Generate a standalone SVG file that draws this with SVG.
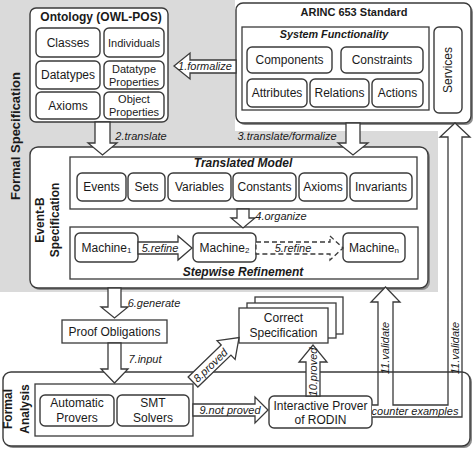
<svg xmlns="http://www.w3.org/2000/svg" width="474" height="450" viewBox="0 0 474 450">
<style>
.box{fill:#fff;stroke:#3a3a3a;stroke-width:1.4}
.sq{fill:#fff;stroke:#3a3a3a;stroke-width:1.3}
.sh{fill:#8c8c8c}
.ar{fill:#fff;stroke:#3a3a3a;stroke-width:1.3;stroke-linejoin:miter}
.dash{stroke-dasharray:5,3}
text{font-family:"Liberation Sans",Arial,Helvetica,sans-serif;fill:#1a1a1a;text-anchor:middle}
.t{font-size:12px}
.s{font-size:11px}
.b{font-weight:bold}
.bi{font-weight:bold;font-style:italic}
.l{font-size:11px;font-style:italic}
</style>
<rect width="474" height="450" fill="#fff"/>
<path d="M0,0 H235 V131 H438 V292 H0 Z" fill="#dadada"/>
<text class="b" font-size="13" transform="translate(20,136) rotate(-90)">Formal Specification</text>

<g id="ontology">
<rect class="box" x="30" y="8" width="138" height="114" rx="6"/>
<text class="t b" x="101" y="21">Ontology (OWL-POS)</text>
<rect class="box" x="36" y="28" width="64" height="29" rx="5"/><text class="t" x="68" y="47">Classes</text>
<rect class="box" x="104" y="28" width="60" height="29" rx="5"/><text class="s" x="134" y="46.5">Individuals</text>
<rect class="box" x="36" y="61" width="64" height="28" rx="5"/><text class="t" x="68" y="79">Datatypes</text>
<rect class="box" x="104" y="61" width="60" height="28" rx="5"/><text class="s" x="134" y="73">Datatype</text><text class="s" x="134" y="86">Properties</text>
<rect class="box" x="36" y="92" width="64" height="27" rx="5"/><text class="t" x="68" y="110">Axioms</text>
<rect class="box" x="104" y="92" width="60" height="27" rx="5"/><text class="s" x="134" y="103">Object</text><text class="s" x="134" y="116">Properties</text>
</g>

<g id="arinc">
<rect class="sh" x="238" y="5" width="235" height="120" rx="7"/>
<rect class="box" x="236" y="3" width="235" height="120" rx="7"/>
<text class="b" font-size="11" x="354" y="16">ARINC 653 Standard</text>
<rect class="sq" x="242" y="27" width="187" height="83"/>
<text class="bi" font-size="10.8" x="334" y="38">System Functionality</text>
<rect class="box" x="247" y="47" width="85" height="26" rx="5"/><text class="t" x="289.5" y="64">Components</text>
<rect class="box" x="341" y="47" width="82" height="26" rx="5"/><text class="t" x="382" y="64">Constraints</text>
<rect class="box" x="247" y="79" width="60" height="28" rx="5"/><text class="t" x="277" y="97">Attributes</text>
<rect class="box" x="310" y="79" width="59" height="28" rx="5"/><text class="t" x="339.5" y="97">Relations</text>
<rect class="box" x="372" y="79" width="51" height="28" rx="5"/><text class="t" x="397.5" y="97">Actions</text>
<rect class="box" x="434" y="27" width="28" height="86" rx="5"/><text class="t" transform="translate(452,70) rotate(-90)">Services</text>
</g>

<g id="eventb">
<rect class="sh" x="32" y="149" width="398" height="141" rx="8"/>
<rect class="box" x="30" y="147" width="398" height="141" rx="8"/>
<text class="t b" transform="translate(44,220) rotate(-90)">Event-B</text>
<text class="t b" transform="translate(59,220) rotate(-90)">Specification</text>
</g>

<g id="translated-model">
<rect class="sq" x="70" y="157" width="347" height="52"/>
<text class="t bi" x="243" y="167">Translated Model</text>
<rect class="box" x="77" y="173" width="49" height="28" rx="5"/><text class="t" x="101.5" y="191">Events</text>
<rect class="box" x="128" y="173" width="37" height="28" rx="5"/><text class="t" x="146.5" y="191">Sets</text>
<rect class="box" x="168" y="173" width="63" height="28" rx="5"/><text class="t" x="199.5" y="191">Variables</text>
<rect class="box" x="233" y="173" width="63" height="28" rx="5"/><text class="t" x="264.5" y="191">Constants</text>
<rect class="box" x="299" y="173" width="48" height="28" rx="5"/><text class="t" x="323" y="191">Axioms</text>
<rect class="box" x="350" y="173" width="62" height="28" rx="5"/><text class="t" x="381" y="191">Invariants</text>
</g>

<g id="stepwise-refinement">
<rect class="sq" x="70" y="227" width="348" height="52"/>
<text class="t bi" x="243" y="276">Stepwise Refinement</text>
</g>
<g id="machine1"><rect class="box" x="75" y="233" width="63" height="29" rx="5"/><text class="t" x="106.5" y="252">Machine<tspan font-size="8" dy="1">1</tspan></text></g>
<g id="machine2"><rect class="box" x="193" y="233" width="63" height="29" rx="5"/><text class="t" x="224.5" y="252">Machine<tspan font-size="8" dy="1">2</tspan></text></g>
<g id="machinen"><rect class="box" x="343" y="233" width="62" height="29" rx="5"/><text class="t" x="374" y="252">Machine<tspan font-size="8" dy="1">n</tspan></text></g>

<g id="proof-obligations"><rect class="sq" x="62" y="320" width="105" height="23"/><text class="t" x="114.5" y="336">Proof Obligations</text></g>

<g id="correct-spec">
<rect class="sq" x="255" y="297" width="88" height="37"/>
<rect class="sq" x="247" y="303" width="89" height="35"/>
<rect class="sq" x="239" y="308" width="89" height="35"/>
<text class="t" x="283.5" y="322">Correct</text>
<text class="t" x="283.5" y="337">Specification</text>
</g>

<g id="formal-analysis">
<rect class="sh" x="5" y="374" width="467" height="74" rx="8"/>
<rect class="box" x="3" y="372" width="467" height="74" rx="8"/>
<text class="t b" transform="translate(12,409) rotate(-90)">Formal</text>
<text class="t b" transform="translate(29,409) rotate(-90)">Analysis</text>
<rect class="sq" x="35" y="384" width="158" height="52"/>
</g>
<g id="automatic-provers"><rect class="box" x="40" y="395" width="74" height="31" rx="5"/><text class="t" x="77" y="407">Automatic</text><text class="t" x="77" y="422">Provers</text></g>
<g id="smt-solvers"><rect class="box" x="117" y="395" width="72" height="31" rx="5"/><text class="t" x="153" y="407">SMT</text><text class="t" x="153" y="422">Solvers</text></g>
<g id="interactive-prover"><rect class="box" x="269" y="396" width="103" height="32" rx="5"/><text class="t" x="320.5" y="410">Interactive Prover</text><text class="t" x="320.5" y="424">of RODIN</text></g>

<g id="connectors">
<polygon class="ar" points="236,60 190,60 190,53 174,66 190,79 190,73 236,73"/>
<polygon class="ar" points="95,122 110,122 110,143 117,143 102.5,155 88,143 95,143"/>
<polygon class="ar" points="346,123 360,123 360,143 368,143 353,155 338,143 346,143"/>
<polygon class="ar" points="237,209 249,209 249,218 255,218 243,228 231,218 237,218"/>
<polygon class="ar" points="138,242 178,242 178,236 192,248 178,260 178,254 138,254"/>
<polygon class="ar dash" points="256,242 330,242 330,236 343,248 330,260 330,254 256,254"/>
<polygon class="ar" points="108,288 121,288 121,307 128,307 114.5,318 101,307 108,307"/>
<polygon class="ar" points="108,343 121,343 121,369 128,369 114.5,383 101,369 108,369"/>
<polygon class="ar" points="193,404 255,404 255,397 268,410 255,423 255,416 193,416"/>
<polygon class="ar" points="306,396 320,396 320,362 327,362 313,345 299,362 306,362"/>
<polygon class="ar" points="0,-7 46,-7 46,-13 64,0 46,13 46,7 0,7" transform="translate(193,382) rotate(-44)"/>
<path class="ar" d="M372,405 H378 V302 H371 L385.5,287 L400,302 H393 V405 H448 V137 H440 L455,123 L470,137 H462 V417 H372"/>
<path d="M378,372 H393 M448,372 H462" stroke="#3a3a3a" stroke-width="1.3" fill="none"/>
<text class="l" x="205" y="70">1.formalize</text>
<text class="l" x="141" y="140">2.translate</text>
<text class="l" x="287" y="140">3.translate/formalize</text>
<text class="l" x="281" y="220">4.organize</text>
<text class="l" x="160" y="252">5.refine</text>
<text class="l" x="293" y="252">5.refine</text>
<text class="l" x="154" y="307">6.generate</text>
<text class="l" x="145" y="363">7.input</text>
<text class="l" transform="translate(193,382) rotate(-44)" x="24" y="4">8.proved</text>
<text class="l" x="230" y="414">9.not proved</text>
<text class="l" transform="translate(317,372) rotate(-90)">10.proved</text>
<text class="l" transform="translate(389,348) rotate(-90)">11.validate</text>
<text class="l" transform="translate(459,348) rotate(-90)">11.validate</text>
<text class="l" font-size="10" x="415" y="415">counter examples</text>
</g>
</svg>
